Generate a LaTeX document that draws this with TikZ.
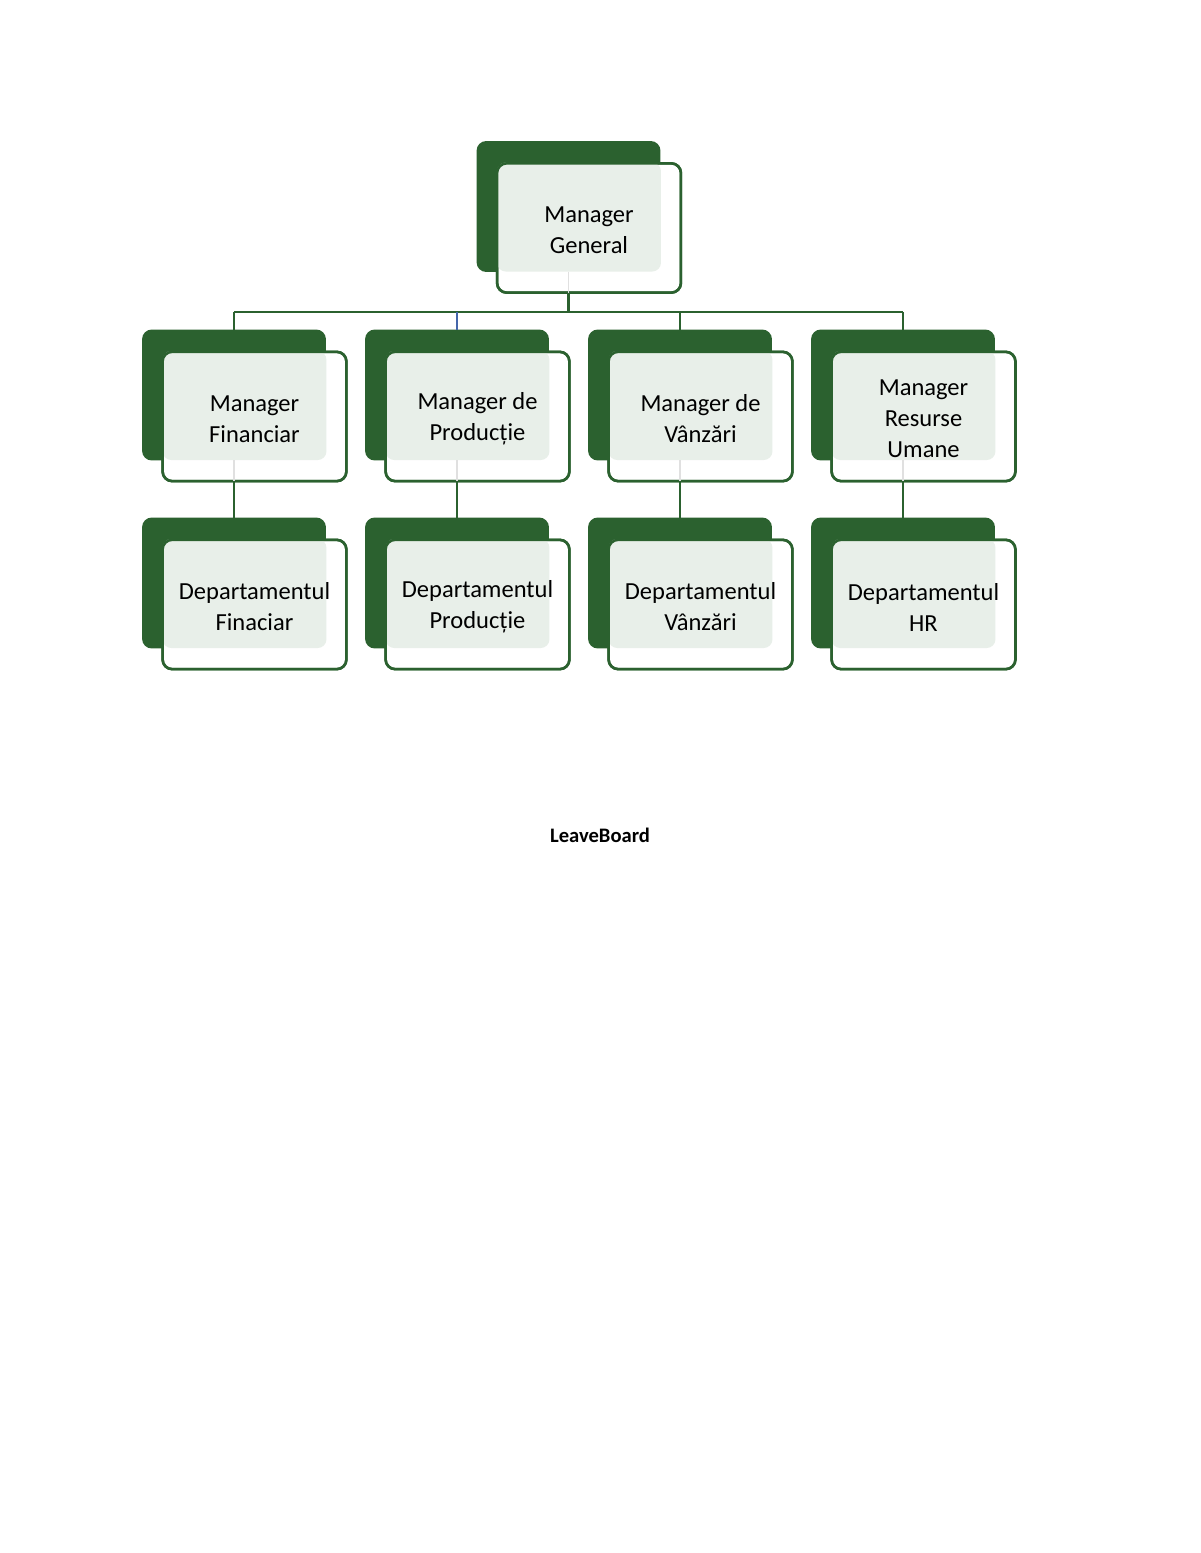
\documentclass[tikz,border=0pt]{standalone}
\usepackage{fontspec}
\setmainfont{Carlito}
\definecolor{dkgreen}{HTML}{2B612F}
\definecolor{lightfill}{HTML}{E8EFE9}
\definecolor{busblue}{HTML}{4466AA}
\begin{document}
\begin{tikzpicture}[x=0.51pt,y=-0.51pt,
  backbox/.style={draw=none,fill=dkgreen,rounded corners=5pt,minimum width=93.8pt,minimum height=66.8pt,inner sep=0pt,outer sep=0pt},
  frontbox/.style={draw=dkgreen,line width=1.3pt,fill=white,rounded corners=5pt,minimum width=93.8pt,minimum height=66pt,inner sep=0pt,outer sep=0pt},
  lightbox/.style={fill=lightfill,rounded corners=4.5pt,minimum width=83.6pt,minimum height=55.6pt,inner sep=0pt,outer sep=0pt},
  lbl/.style={font=\fontsize{12.5}{15.8}\selectfont,align=center,text=black,yshift=-1.3pt},
  conn/.style={draw=dkgreen,line width=1.3pt},
  faint/.style={draw=black!12,line width=1pt},
  rim/.style={draw=dkgreen,line width=1.3pt,rounded corners=5pt}]
\useasboundingbox (0,0) rectangle (1200,1553);
\fill[white] (0,0) rectangle (1200,1553);

% back boxes
\node[backbox] (b0) at (568.5,206.5) {};
\node[backbox] (b1) at (234,395) {};
\node[backbox] (b2) at (457,395) {};
\node[backbox] (b3) at (680,395) {};
\node[backbox] (b4) at (903,395) {};
\node[backbox] (c1) at (234,583) {};
\node[backbox] (c2) at (457,583) {};
\node[backbox] (c3) at (680,583) {};
\node[backbox] (c4) at (903,583) {};

% connectors
\coordinate (busy) at (0,312);
\draw[conn] (b0.south) -- (b0.south |- busy);
\draw[conn] (b1.north |- busy) -- (b4.north |- busy);
\draw[conn] (b1.north |- busy) -- (b1.north);
\draw[conn,draw=busblue] (b2.north |- busy) -- (b2.north);
\draw[conn] (b3.north |- busy) -- (b3.north);
\draw[conn] (b4.north |- busy) -- (b4.north);
\draw[conn] (b1.south) -- (c1.north);
\draw[conn] (b2.south) -- (c2.north);
\draw[conn] (b3.south) -- (c3.north);
\draw[conn] (b4.south) -- (c4.north);

% front boxes
\foreach \n/\x/\y in {f0/589/228, f1/254.5/416.5, f2/477.5/416.5, f3/700.5/416.5, f4/923.5/416.5,
                       g1/254.5/604.5, g2/477.5/604.5, g3/700.5/604.5, g4/923.5/604.5}{
  \node[frontbox] (\n) at (\x,\y) {};
  \node[lightbox] (\n l) at ([xshift=-5.1pt,yshift=5.6pt]\n.center) {};
  \draw[rim] (\n.north west) rectangle (\n.south east);
}

% faint connector traces inside the front boxes
\draw[faint] (b0.south) -- (b0.south |- f0.south);
\draw[faint] (b1.south) -- (b1.south |- f1.south);
\draw[faint] (b2.south) -- (b2.south |- f2.south);
\draw[faint] (b3.south) -- (b3.south |- f3.south);
\draw[faint] (b4.south) -- (b4.south |- f4.south);

% labels
\node[lbl] (t0) at (f0.center) {Manager\\General};
\node[lbl] (t1) at (f1.center) {Manager\\Financiar};
\node[lbl] (t2) at (f2.center) {Manager de\\Producție};
\node[lbl] (t3) at (f3.center) {Manager de\\Vânzări};
\node[lbl] (t4) at (f4.center) {Manager\\Resurse\\Umane};
\node[lbl] (u1) at (g1.center) {Departamentul\\Finaciar};
\node[lbl] (u2) at (g2.center) {Departamentul\\Producție};
\node[lbl] (u3) at (g3.center) {Departamentul\\Vânzări};
\node[lbl] (u4) at (g4.center) {Departamentul\\HR};

\node[font=\fontsize{10.5}{12}\selectfont\bfseries,text=black] (lb) at (600,835) {LeaveBoard};
\end{tikzpicture}
\end{document}
